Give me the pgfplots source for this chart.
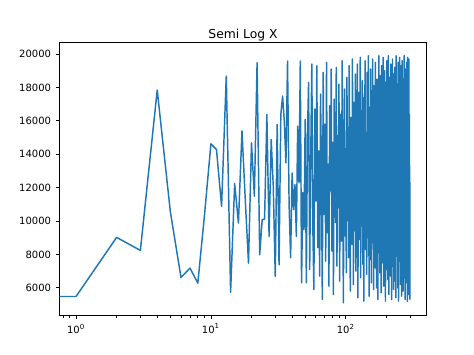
\documentclass[border=0pt]{standalone}
\usepackage{fontspec}
\setmainfont{DejaVu Sans}
\usepackage{pgfplots}
\pgfplotsset{compat=1.18}
\usepackage{pgfplotstable}
\definecolor{mplblue}{HTML}{1F77B4}
\pgfplotstableread{
y
5480
5480
9020
8240
17840
10580
6620
7180
6280
10500
14620
14280
10880
18680
5740
12240
9880
15400
11200
7480
14680
11480
19480
7980
10080
10120
16380
9080
14880
12080
6680
15780
7380
16380
17480
16000
13480
19580
11000
7800
12880
10680
12180
9080
15680
12280
19580
6300
11700
9480
16080
6300
15200
18300
7100
13900
19400
9600
5900
16700
11200
19300
8400
14200
6700
17600
12900
5300
18900
10400
15800
7600
19500
9300
13400
6100
16900
11800
19100
8200
14700
5600
17300
12400
9900
19200
7300
15100
10800
18200
6400
13700
16400
8800
19600
11400
5100
14900
17900
9100
12700
6900
18600
10200
15600
7800
19300
13100
5800
16200
11900
8600
19700
12200
6200
17100
9400
14400
18800
7000
15900
10700
19400
5400
13600
17700
8900
12000
19800
6600
16600
11100
9700
18400
7400
14100
5200
17400
12600
19600
8300
15300
10900
6800
18900
13300
9000
19900
11600
5500
16800
14600
7700
19100
10300
6300
17800
12300
19700
8700
15000
5900
18100
11300
14300
7200
19500
9500
16100
6000
13000
18500
10100
5300
17200
12800
19900
8100
15500
6900
18700
11000
14000
5700
19300
9800
16500
7500
13800
19800
10600
6100
17500
12100
19000
8500
15400
5200
18300
11700
14800
7100
19600
9200
16300
6500
13200
19900
10500
5600
17000
12500
18600
8000
15200
6700
19400
11500
14200
5300
17900
9900
19700
7300
16000
12900
5900
18800
10000
15700
6400
19200
13500
8800
17300
5400
19900
11200
14500
7900
18200
9300
16700
6000
19500
12700
5200
17600
10800
15100
7600
19800
13900
8400
18000
6200
16200
11900
19300
5500
14700
9600
19600
7000
17100
12300
5800
18500
10400
15900
6600
19900
13100
8200
16900
5300
19100
11400
14400
7300
18700
9700
19500
6300
17400
12600
5200
19800
10200
15300
7800
18300
13600
5600
19700
9000
16400
6100
13300
5300
}\datatable
\begin{document}
\begin{tikzpicture}
\path[use as bounding box] (-44.5pt,-29.5pt) rectangle (311.1pt,236.75pt);
\begin{axis}[
 xmode=log, log basis x=10,
 scale only axis, width=275.6pt, height=204.75pt,
 xmin=0.752, xmax=398, ymin=4338, ymax=20678,
 axis line style={line width=0.6pt},
 tick align=outside,
 xtick={1,10,100},
 xticklabels={10\textsuperscript{0},10\textsuperscript{1},10\textsuperscript{2}},
 minor xtick={0.8,0.9,2,3,4,5,6,7,8,9,20,30,40,50,60,70,80,90,200,300},
 ytick={6000,8000,...,20000},
 scaled y ticks=false,
 yticklabel style={/pgf/number format/fixed, /pgf/number format/precision=0},
 xtick pos=bottom, ytick pos=left,
 major tick length=2.7pt, minor tick length=1.5pt,
 every tick/.style={black, line width=0.6pt},
 tick label style={font=\fontsize{7.5}{9}\selectfont},
 /pgf/number format/1000 sep={}, /pgf/number format/assume math mode=true,
 title={Semi Log X}, title style={font=\fontsize{9.25}{11}\selectfont, yshift=-8.5pt},
]
\addplot[mplblue, line width=1.1pt, line join=round] table[x expr={max(\coordindex,0.001)}, y index=0] {\datatable};
\end{axis}
\end{tikzpicture}
\end{document}
